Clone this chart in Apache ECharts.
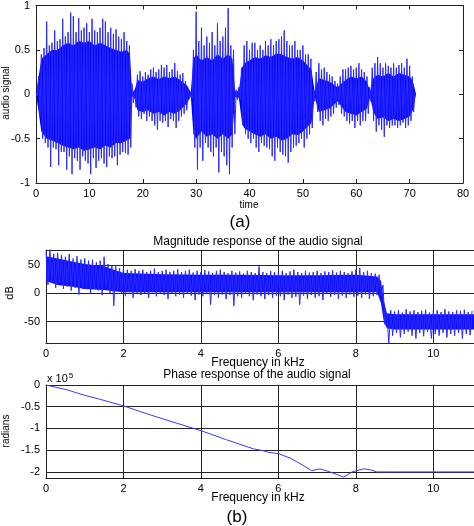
<!DOCTYPE html>
<html><head><meta charset="utf-8">
<script src="https://cdn.jsdelivr.net/npm/echarts@6/dist/echarts.min.js"></script>
<style>html,body{margin:0;padding:0;background:#fff}#c{width:474px;height:526px}</style>
</head><body><div id="c"></div>
<script>
// ---- Data ----
// (a) audio signal: alternating peak/trough extremes, one value every 0.25 s
const audioStep = 0.25;
const audioSamples = [
 0.02,-0.02,0.2,-0.25,
 0.45,-0.5,0.52,-0.55,
 0.82,-0.6,0.55,-0.82,
 0.58,-0.6,0.72,-0.62,
 0.6,-0.8,0.62,-0.65,
 0.85,-0.65,0.65,-0.85,
 0.7,-0.7,0.92,-0.9,
 0.88,-0.72,0.7,-0.75,
 0.86,-0.85,0.72,-0.7,
 0.75,-0.75,0.8,-0.78,
 0.7,-0.9,0.85,-0.72,
 0.72,-0.83,0.7,-0.75,
 0.75,-0.72,0.85,-0.78,
 0.82,-0.82,0.7,-0.7,
 0.75,-0.72,0.68,-0.7,
 0.73,-0.8,0.65,-0.68,
 0.62,-0.65,0.7,-0.66,
 0.6,-0.68,0.55,-0.6,
 0.12,-0.1,0.04,-0.15,
 0.22,-0.25,0.26,-0.28,
 0.2,-0.22,0.25,-0.3,
 0.22,-0.25,0.28,-0.3,
 0.3,-0.35,0.25,-0.4,
 0.28,-0.3,0.33,-0.32,
 0.3,-0.3,0.33,-0.37,
 0.25,-0.28,0.28,-0.3,
 0.35,-0.38,0.26,-0.3,
 0.22,-0.25,0.24,-0.22,
 0.15,-0.18,0.06,-0.05,
 0.03,-0.05,0.5,-0.6,
 0.93,-0.85,0.6,-0.6,
 0.75,-0.75,0.55,-0.55,
 0.65,-0.6,0.58,-0.65,
 0.7,-0.7,0.55,-0.6,
 0.8,-0.88,0.6,-0.65,
 0.65,-0.7,0.75,-0.8,
 0.97,-0.9,0.55,-0.6,
 0.5,-0.45,0.05,-0.06,
 0.08,-0.06,0.3,-0.35,
 0.55,-0.45,0.6,-0.5,
 0.5,-0.55,0.58,-0.5,
 0.58,-0.6,0.5,-0.65,
 0.55,-0.55,0.5,-0.58,
 0.6,-0.6,0.55,-0.62,
 0.62,-0.7,0.55,-0.75,
 0.6,-0.6,0.62,-0.65,
 0.65,-0.68,0.72,-0.7,
 0.6,-0.77,0.55,-0.65,
 0.55,-0.6,0.6,-0.58,
 0.5,-0.55,0.5,-0.5,
 0.55,-0.6,0.45,-0.5,
 0.45,-0.45,0.4,-0.38,
 0.05,-0.08,0.25,-0.2,
 0.35,-0.3,0.28,-0.35,
 0.3,-0.28,0.25,-0.3,
 0.22,-0.25,0.2,-0.22,
 0.15,-0.15,0.12,-0.12,
 0.2,-0.22,0.28,-0.25,
 0.28,-0.3,0.3,-0.33,
 0.32,-0.3,0.28,-0.38,
 0.3,-0.3,0.35,-0.35,
 0.28,-0.3,0.25,-0.3,
 0.2,-0.22,0.08,-0.08,
 0.3,-0.3,0.35,-0.42,
 0.42,-0.35,0.35,-0.4,
 0.3,-0.48,0.35,-0.35,
 0.32,-0.38,0.3,-0.35,
 0.35,-0.35,0.3,-0.38,
 0.33,-0.35,0.35,-0.32,
 0.3,-0.38,0.4,-0.35,
 0.32,-0.3,0.2,-0.2,
 0.02
];
// (a) dense core envelope of the audio signal
const audioCoreT   = [0, 0.5, 1, 2, 3, 4, 5, 6, 7, 8, 9, 10, 11, 12, 13, 14, 15, 16, 17, 17.6, 18, 18.5, 19, 20, 21, 22, 23, 24, 25, 26, 27, 28.3, 29, 29.5, 30, 31, 32, 33, 34, 35, 36, 36.8, 37.3, 38, 38.6, 39, 40, 41, 42, 43, 44, 45, 46, 47, 48, 49, 50, 51.6, 52.2, 53, 54, 55, 56.5, 58, 59, 60, 61, 62, 62.6, 63.2, 64, 65, 66, 67, 68, 69, 70, 70.6, 71.2];
const audioCoreUp  = [0, 0.2, 0.4, 0.45, 0.5, 0.5, 0.55, 0.58, 0.55, 0.6, 0.58, 0.6, 0.55, 0.58, 0.55, 0.52, 0.5, 0.48, 0.5, 0.45, 0.02, 0.05, 0.16, 0.14, 0.18, 0.2, 0.17, 0.2, 0.18, 0.2, 0.16, 0.1, 0.02, 0.4, 0.45, 0.38, 0.42, 0.38, 0.45, 0.4, 0.45, 0.4, 0.03, 0.04, 0.3, 0.35, 0.38, 0.42, 0.4, 0.44, 0.42, 0.46, 0.45, 0.42, 0.4, 0.42, 0.38, 0.28, 0.03, 0.18, 0.16, 0.14, 0.08, 0.16, 0.2, 0.18, 0.2, 0.14, 0.03, 0.18, 0.22, 0.2, 0.24, 0.2, 0.24, 0.22, 0.2, 0.15, 0];
const audioCoreLow = [0, -0.2, -0.42, -0.5, -0.52, -0.55, -0.58, -0.6, -0.62, -0.6, -0.64, -0.62, -0.6, -0.62, -0.58, -0.6, -0.55, -0.55, -0.52, -0.5, -0.02, -0.05, -0.18, -0.2, -0.18, -0.22, -0.2, -0.24, -0.2, -0.22, -0.18, -0.1, -0.02, -0.45, -0.5, -0.42, -0.48, -0.45, -0.5, -0.45, -0.5, -0.45, -0.03, -0.04, -0.32, -0.38, -0.42, -0.45, -0.48, -0.45, -0.5, -0.48, -0.52, -0.5, -0.45, -0.46, -0.42, -0.32, -0.03, -0.2, -0.18, -0.16, -0.08, -0.2, -0.22, -0.24, -0.2, -0.16, -0.03, -0.2, -0.28, -0.26, -0.3, -0.28, -0.3, -0.28, -0.25, -0.18, 0];
// (b) magnitude response (dB): alternating band top/bottom, one value every 0.05 kHz
const magStep = 0.05;
const magDb = [
 74,15, 78,22, 70,10, 72,18, 68,8,
 65,12, 70,5, 62,10, 66,-2, 60,8,
 62,10, 58,0, 60,8, 55,5, 58,-3,
 65,10, 52,0, 50,-22, 48,5, 45,0,
 45,-5, 42,2, 40,-8, 43,0, 40,-3,
 42,0, 38,-8, 40,2, 44,-5, 38,0,
 40,-3, 42,-10, 38,0, 40,-5, 43,-2,
 38,-8, 40,0, 42,-4, 37,-12, 40,-2,
 38,-5, 41,0, 39,-20, 36,-3, 40,-8,
 42,-2, 38,-10, 36,-3, 40,-22, 37,-5,
 39,-8, 35,0, 40,-5, 38,-12, 36,-2,
 48,-5, 38,-10, 36,-3, 40,-8, 38,-4,
 37,-5, 40,-12, 36,-2, 39,-8, 42,-6,
 38,-20, 36,-4, 40,-10, 37,-3, 38,-8,
 40,-5, 36,-12, 39,0, 38,-6, 41,-3,
 37,-10, 40,-4, 38,-8, 36,-2, 39,-6,
 42,-4, 45,-8, 38,-2, 40,-10, 36,-5,
 35,-3, 33,-5, 15,-55, -35,-88, -30,-75,
 -32,-70, -30,-78, -34,-72, -28,-68, -32,-75,
 -30,-80, -33,-70, -31,-76, -29,-68, -34,-80,
 -31,-72, -30,-75, -33,-70, -28,-78, -32,-72,
 -33,-75, -30,-70, -31,-80, -29,-72, -33,-74,
 -31
];
// (b) dense core band of the magnitude response
const magCoreF   = [0, 0.3, 0.7, 1.0, 1.5, 1.75, 2.0, 3.0, 4.0, 5.0, 6.0, 7.0, 8.0, 8.55, 8.65, 8.72, 8.8, 9.0, 10.0, 11.05];
const magCoreUp  = [66, 62, 56, 52, 48, 42, 36, 34, 33, 33, 32, 32, 33, 30, 22, -12, -35, -37, -37, -37];
const magCoreLow = [22, 15, 12, 8, 6, 4, 2, 2, 2, 2, 2, 2, 2, 2, -18, -50, -62, -64, -64, -64];
// (b) phase response (x 10^5 radians)
const phaseFreq = [0, 0.54, 0.97, 1.4, 2.0, 2.7, 3.38, 4.0, 4.66, 5.36, 5.6, 5.75, 6.0, 6.3, 6.56, 6.86, 7.07, 7.33, 7.6, 7.68, 7.8, 7.9, 8.2, 8.37, 8.54, 9.0, 10.0, 11.05];
const phaseVal  = [0, -0.11, -0.23, -0.33, -0.48, -0.69, -0.88, -1.05, -1.26, -1.47, -1.51, -1.55, -1.58, -1.68, -1.81, -1.97, -1.93, -2.0, -2.09, -2.12, -2.06, -2.0, -1.93, -1.95, -2.0, -2.0, -2.0, -2.0];
// tick labels
const audioYTicks = [-1, -0.5, 0, 0.5, 1];
const audioXTicks = [0, 10, 20, 30, 40, 50, 60, 70, 80];
const freqTicks = [0, 2, 4, 6, 8, 10];
const magTicks = [-50, 0, 50];
const phaseTicks = [-2, -1.5, -1, -0.5, 0];

// ---- Chart ----
const FONT = 'Liberation Sans';
const audioData = audioSamples.map((v, i) => [i * audioStep, v]);
const audioBand = audioCoreT.map((t, i) => [t, audioCoreUp[i], audioCoreLow[i]]);
const magData = magDb.map((v, i) => [+(i * magStep).toFixed(3), v]);
const magBand = magCoreF.map((f, i) => [f, magCoreUp[i], magCoreLow[i]]);
const phaseData = phaseFreq.map((f, i) => [f, phaseVal[i]]);

// band polygon drawn through the axes' scales
function bandRenderer(color) {
  return function (params, api) {
    if (params.dataIndex !== 0) return null;
    const data = params.context.__band;
    const top = data.map(d => api.coord([d[0], d[1]]));
    const bot = data.slice().reverse().map(d => api.coord([d[0], d[2]]));
    return { type: 'polygon', shape: { points: top.concat(bot) }, style: { fill: color } };
  };
}
function bandSeries(band, xi, yi, color) {
  return { type: 'custom', xAxisIndex: xi, yAxisIndex: yi, data: band, clip: true, z: 2, silent: true,
    encode: { x: 0, y: [1, 2] },
    renderItem: function (params, api) { params.context.__band = band; return bandRenderer(color)(params, api); } };
}

const lbl = { color: '#000', fontFamily: FONT, fontSize: 11 };
const axLine = { show: true, onZero: false, lineStyle: { color: '#222', width: 1 } };
const tickIn = (vals) => ({ show: true, inside: true, length: 4, lineStyle: { color: '#222' }, customValues: vals });
const grid = (g) => Object.assign({ containLabel: false, show: false }, g);
const BLUE = '#0000ff';

const chart = echarts.init(document.getElementById('c'), null, { renderer: 'canvas' });
chart.setOption({
  animation: false,
  backgroundColor: '#fff',
  grid: [
    grid({ left: 36, top: 2, width: 427, height: 181 }),
    grid({ left: 46, top: 250, width: 428.3, height: 93 }),
    grid({ left: 46, top: 385, width: 428.3, height: 93 })
  ],
  xAxis: [
    { gridIndex: 0, type: 'value', min: 0, max: 80, axisLine: axLine, axisTick: tickIn(audioXTicks),
      axisLabel: Object.assign({ margin: 5, customValues: audioXTicks }, lbl), splitLine: { show: false } },
    { gridIndex: 0, type: 'value', position: 'top', min: 0, max: 80, axisLine: axLine, axisTick: tickIn(audioXTicks),
      axisLabel: { show: false }, splitLine: { show: false } },
    { gridIndex: 1, type: 'value', min: 0, max: 11.05, axisLine: axLine, axisTick: tickIn(freqTicks),
      axisLabel: Object.assign({ margin: 5, customValues: freqTicks }, lbl),
      splitLine: { show: true, lineStyle: { color: '#222', width: 1 } } },
    { gridIndex: 1, type: 'value', position: 'top', min: 0, max: 11.05, axisLine: axLine, axisTick: { show: false },
      axisLabel: { show: false }, splitLine: { show: false } },
    { gridIndex: 2, type: 'value', min: 0, max: 11.05, axisLine: axLine, axisTick: tickIn(freqTicks),
      axisLabel: Object.assign({ margin: 5, customValues: freqTicks }, lbl),
      splitLine: { show: true, lineStyle: { color: '#222', width: 1 } } },
    { gridIndex: 2, type: 'value', position: 'top', min: 0, max: 11.05, axisLine: axLine, axisTick: { show: false },
      axisLabel: { show: false }, splitLine: { show: false } }
  ],
  yAxis: [
    { gridIndex: 0, type: 'value', min: -1, max: 1, axisLine: axLine, axisTick: tickIn(audioYTicks),
      axisLabel: Object.assign({ margin: 6, customValues: audioYTicks }, lbl), splitLine: { show: false } },
    { gridIndex: 0, type: 'value', position: 'right', min: -1, max: 1, axisLine: axLine, axisTick: tickIn(audioYTicks),
      axisLabel: { show: false }, splitLine: { show: false } },
    { gridIndex: 1, type: 'value', min: -88, max: 77, axisLine: axLine, axisTick: tickIn(magTicks),
      axisLabel: Object.assign({ margin: 6, customValues: magTicks }, lbl),
      splitLine: { show: true, lineStyle: { color: '#222', width: 1 } } },
    { gridIndex: 2, type: 'value', min: -2.14, max: 0, axisLine: axLine, axisTick: tickIn(phaseTicks),
      axisLabel: Object.assign({ margin: 6, customValues: phaseTicks }, lbl),
      splitLine: { show: true, lineStyle: { color: '#222', width: 1 } } }
  ],
  series: [
    bandSeries(audioBand, 0, 0, BLUE),
    { type: 'line', xAxisIndex: 0, yAxisIndex: 0, data: audioData, symbol: 'none',
      lineStyle: { color: '#2a2aff', width: 1 }, z: 3 },
    bandSeries(magBand, 2, 2, '#1010ff'),
    { type: 'line', xAxisIndex: 2, yAxisIndex: 2, data: magData, symbol: 'none',
      lineStyle: { color: '#2a2aff', width: 1 }, z: 3 },
    { type: 'line', xAxisIndex: 4, yAxisIndex: 3, data: phaseData, symbol: 'none',
      lineStyle: { color: '#3a3aff', width: 1 }, z: 3 }
  ],
  graphic: [
    { type: 'text', x: 249, y: 205, style: { text: 'time', font: '10px ' + FONT, fill: '#000', textAlign: 'center', textVerticalAlign: 'middle' } },
    { type: 'text', x: 240, y: 222, style: { text: '(a)', font: '17px ' + FONT, fill: '#000', textAlign: 'center', textVerticalAlign: 'middle' } },
    { type: 'text', x: 6, y: 93, rotation: Math.PI / 2, style: { text: 'audio signal', font: '10px ' + FONT, fill: '#000', textAlign: 'center', textVerticalAlign: 'middle' } },
    { type: 'text', x: 258, y: 242, style: { text: 'Magnitude response of the audio signal', font: '12px ' + FONT, fill: '#000', textAlign: 'center', textVerticalAlign: 'middle' } },
    { type: 'text', x: 10, y: 293, rotation: Math.PI / 2, style: { text: 'dB', font: '11px ' + FONT, fill: '#000', textAlign: 'center', textVerticalAlign: 'middle' } },
    { type: 'text', x: 258, y: 363, style: { text: 'Frequency in kHz', font: '12px ' + FONT, fill: '#000', textAlign: 'center', textVerticalAlign: 'middle' } },
    { type: 'text', x: 257, y: 375, style: { text: 'Phase response of the audio signal', font: '12px ' + FONT, fill: '#000', textAlign: 'center', textVerticalAlign: 'middle' } },
    { type: 'text', x: 47, y: 379, style: { text: '{a|x 10}{b|5}', textAlign: 'left', textVerticalAlign: 'middle',
        rich: { a: { font: '11px ' + FONT, fill: '#000' }, b: { font: '8px ' + FONT, fill: '#000', verticalAlign: 'top', padding: [0, 0, 6, 1] } } } },
    { type: 'text', x: 6, y: 431, rotation: Math.PI / 2, style: { text: 'radians', font: '10px ' + FONT, fill: '#000', textAlign: 'center', textVerticalAlign: 'middle' } },
    { type: 'text', x: 258, y: 498, style: { text: 'Frequency in kHz', font: '12px ' + FONT, fill: '#000', textAlign: 'center', textVerticalAlign: 'middle' } },
    { type: 'text', x: 237, y: 517, style: { text: '(b)', font: '17px ' + FONT, fill: '#000', textAlign: 'center', textVerticalAlign: 'middle' } }
  ]
});
</script></body></html>
